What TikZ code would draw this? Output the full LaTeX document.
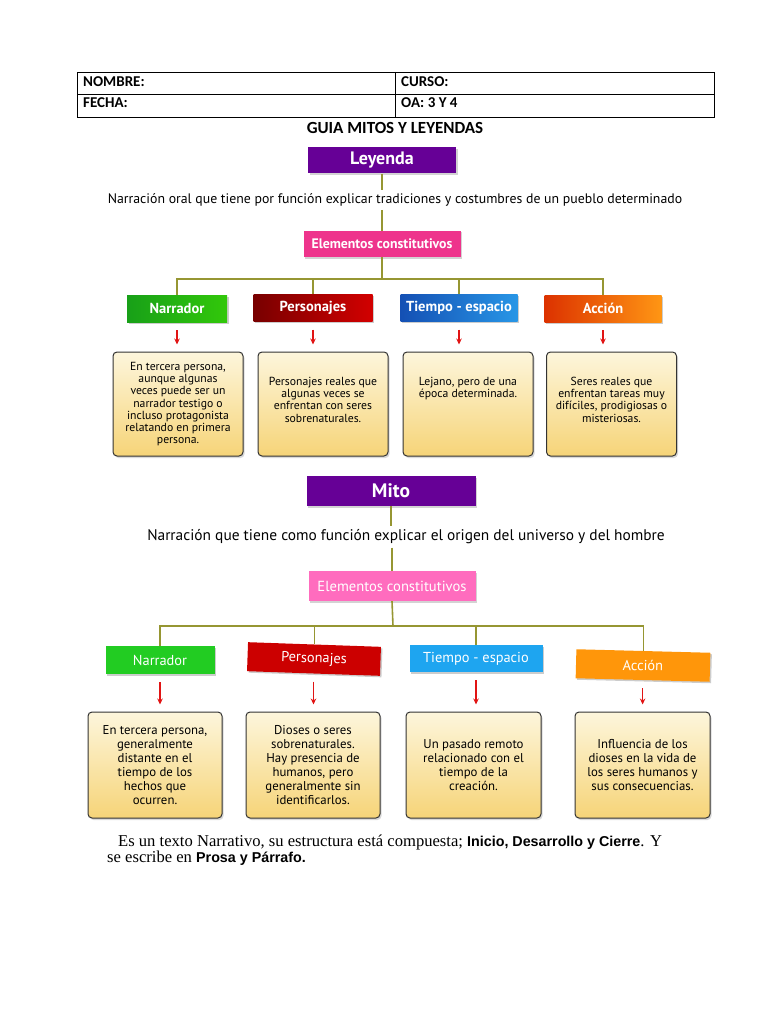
\documentclass[tikz,border=0pt]{standalone}
\usepackage{fontspec}
\setmainfont{PT Sans}
\newfontfamily\hdrfont{Carlito}
\newfontfamily\timesfont{Liberation Serif}
\newfontfamily\arialfont{Liberation Sans}
\usetikzlibrary{arrows.meta,shadows}
\definecolor{ttlpurple}{RGB}{102,0,150}
\definecolor{elpink}{RGB}{238,52,140}
\definecolor{elpinklt}{RGB}{255,108,190}
\definecolor{olive}{RGB}{150,150,50}
\definecolor{arrred}{RGB}{225,20,20}
\definecolor{boxtop}{RGB}{253,246,220}
\definecolor{boxbot}{RGB}{246,212,120}
\definecolor{grnL}{RGB}{24,160,24}
\definecolor{grnR}{RGB}{50,200,10}
\definecolor{redL}{RGB}{120,0,0}
\definecolor{redR}{RGB}{210,0,0}
\definecolor{bluL}{RGB}{20,80,180}
\definecolor{bluR}{RGB}{40,150,230}
\definecolor{accL}{RGB}{220,50,0}
\definecolor{accR}{RGB}{255,150,20}
\definecolor{mgreen}{RGB}{34,204,34}
\definecolor{mred}{RGB}{204,0,0}
\definecolor{mblue}{RGB}{30,165,240}
\definecolor{morange}{RGB}{255,150,10}

\newcommand{\toptext}[2]{\parbox[c][94pt][t]{124pt}{\centering\vspace*{#1}#2}}

\begin{document}
\begin{tikzpicture}[x=1pt, y=-1pt, >=Stealth,
    hdr/.style={anchor=west, font=\hdrfont\bfseries\fontsize{15}{17}\selectfont, inner sep=0pt},
    title/.style={fill=ttlpurple, text=white, font=\bfseries\fontsize{18}{20}\selectfont, minimum height=26pt, drop shadow={shadow xshift=1.5pt, shadow yshift=-1.5pt, opacity=0.35}},
    elem/.style={text=white, font=\bfseries\fontsize{13.8}{16}\selectfont, minimum height=26pt, minimum width=157pt, drop shadow={shadow xshift=1.5pt, shadow yshift=-1.5pt, opacity=0.35}},
    part/.style={text=white, minimum height=27pt, drop shadow={shadow xshift=1.5pt, shadow yshift=-1.5pt, opacity=0.4}},
    descbox/.style={draw=black!80, line width=1pt, rounded corners=4pt, top color=boxtop, bottom color=boxbot, minimum width=130pt, minimum height=104pt, inner sep=3pt, align=center, drop shadow={shadow xshift=1.5pt, shadow yshift=-2pt, opacity=0.3}},
    tree/.style={draw=olive, line width=1.6pt},
    redarr/.style={->, arrred, line width=1.3pt, shorten <=8pt, shorten >=7pt, >={Stealth[length=6pt, width=5.5pt]}}]

\useasboundingbox (0,0) rectangle (768,1024);

\draw[line width=0.9pt] (77,72) rectangle (714,117);
\draw[line width=0.9pt] (77,94) -- (714,94);
\draw[line width=0.9pt] (395,72) -- (395,117);
\node[hdr] (nombre) at (83,81.5) {NOMBRE:};
\node[hdr] (curso) at (401,81.5) {CURSO:};
\node[hdr] (fecha) at (83,103) {FECHA:};
\node[hdr] (oa) at (401,103) {OA: 3 Y 4};
\node[font=\hdrfont\bfseries\fontsize{17}{19}\selectfont] (guia) at (395,127.5) {GUIA MITOS Y LEYENDAS};

\node[title, minimum width=148pt] (ley) at (382,160.5) {Leyenda};
\node[font=\fontsize{13.8}{16}\selectfont] (leydesc) at (395,200) {Narración oral que tiene por función explicar tradiciones y costumbres de un pueblo determinado};
\node[elem, fill=elpink] (leyel) at (382,244) {Elementos constitutivos};
\coordinate (leyj) at (382,279);

\node[part, minimum width=100pt, left color=grnL, right color=grnR, font=\bfseries\fontsize{14.5}{16}\selectfont] (lnar) at (177,308.5) {Narrador};
\node[part, minimum width=119pt, left color=redL, right color=redR, font=\bfseries\fontsize{14.5}{16}\selectfont] (lper) at (313,308) {Personajes};
\node[part, minimum width=117pt, left color=bluL, right color=bluR, font=\bfseries\fontsize{14.5}{16}\selectfont] (ltie) at (459,308) {Tiempo - espacio};
\node[part, minimum width=117pt, left color=accL, right color=accR, font=\bfseries\fontsize{14.5}{16}\selectfont] (lacc) at (603,308.5) {Acción};

\draw[tree] (ley.south) -- (ley.south |- leydesc.north);
\draw[tree] (leyel.north |- leydesc.south) -- (leyel.north);
\draw[tree] (leyel.south) -- (leyj);
\draw[tree] (lnar.north) |- (leyj) -| (lacc.north);
\draw[tree] (lper.north) -- (lper.north |- leyj);
\draw[tree] (ltie.north) -- (ltie.north |- leyj);

\node[descbox, font=\fontsize{11.7}{12.3}\selectfont] (lnarb) at (178,404) {\toptext{5pt}{En tercera persona,\\aunque algunas\\veces puede ser un\\narrador testigo o\\incluso protagonista\\relatando en primera\\persona.}};
\node[descbox, font=\fontsize{11.7}{12.3}\selectfont] (lperb) at (323,404) {\toptext{20pt}{Personajes reales que\\algunas veces se\\enfrentan con seres\\sobrenaturales.}};
\node[descbox, font=\fontsize{11.7}{12.3}\selectfont] (ltieb) at (468,404) {\toptext{20pt}{Lejano, pero de una\\época determinada.}};
\node[descbox, font=\fontsize{11.7}{12.3}\selectfont] (laccb) at (611.5,404) {\toptext{20pt}{Seres reales que\\enfrentan tareas muy\\difíciles, prodigiosas o\\misteriosas.}};

\draw[redarr] (lnar.south) -- (lnar.south |- lnarb.north);
\draw[redarr] (lper.south) -- (lper.south |- lperb.north);
\draw[redarr] (ltie.south) -- (ltie.south |- ltieb.north);
\draw[redarr] (lacc.south) -- (lacc.south |- laccb.north);

\node[title, minimum width=169pt, minimum height=30pt, font=\bfseries\fontsize{19.5}{22}\selectfont] (mito) at (391,491) {Mito};
\node[font=\fontsize{15.4}{18}\selectfont] (mitodesc) at (406,537) {Narración que tiene como función explicar el origen del universo y del hombre};
\node[elem, fill=elpinklt, minimum width=167pt, minimum height=30pt, font=\fontsize{14.6}{16}\selectfont] (mitoel) at (392,586) {Elementos constitutivos};
\coordinate (mitoj) at (393,626);

\node[part, minimum width=109pt, minimum height=28pt, fill=mgreen, font=\fontsize{14.4}{16}\selectfont] (mnar) at (160,660) {Narrador};
\node[part, minimum width=133pt, minimum height=29pt, fill=mred, rotate=-2, font=\fontsize{14.4}{16}\selectfont] (mper) at (314,659) {Personajes};
\node[part, minimum width=133pt, minimum height=27pt, fill=mblue, font=\fontsize{14.4}{16}\selectfont] (mtie) at (476,658.5) {Tiempo - espacio};
\node[part, minimum width=134pt, minimum height=29pt, fill=morange, rotate=-1.5, font=\fontsize{14.4}{16}\selectfont] (macc) at (643,665.5) {Acción};

\draw[tree] (mito.south) -- (mito.south |- mitodesc.north);
\draw[tree] (mitoel.north |- mitodesc.south) -- (mitoel.north);
\draw[tree] (mitoel.south) -- (mitoj);
\draw[tree] (mnar.north) |- (mitoj) -| (macc.north);
\draw[tree] (mper.north) -- (mper.north |- mitoj);
\draw[tree] (mtie.north) -- (mtie.north |- mitoj);

\node[descbox, minimum width=134pt, minimum height=106pt, font=\fontsize{12.8}{14}\selectfont] (mnarb) at (155,765) {En tercera persona,\\generalmente\\distante en el\\tiempo de los\\hechos que\\ocurren.};
\node[descbox, minimum width=134pt, minimum height=106pt, font=\fontsize{12.8}{14}\selectfont] (mperb) at (313,765) {Dioses o seres\\sobrenaturales.\\Hay presencia de\\humanos, pero\\generalmente sin\\identificarlos.};
\node[descbox, minimum width=135pt, minimum height=106pt, font=\fontsize{12.8}{14}\selectfont] (mtieb) at (473.5,765) {Un pasado remoto\\relacionado con el\\tiempo de la\\creación.};
\node[descbox, minimum width=135pt, minimum height=106pt, font=\fontsize{12.8}{14}\selectfont] (maccb) at (642.5,765) {Influencia de los\\dioses en la vida de\\los seres humanos y\\sus consecuencias.};

\draw[redarr] (mnar.south) -- (mnar.south |- mnarb.north);
\draw[redarr] (mper.south) -- (mper.south |- mperb.north);
\draw[redarr] (mtie.south) -- (mtie.south |- mtieb.north);
\draw[redarr] (macc.south) -- (macc.south |- maccb.north);

\node[anchor=north west, align=left, inner sep=0pt, font=\timesfont\fontsize{16.6}{15.5}\selectfont] (nota) at (107,835) {\hspace*{11pt}Es un texto Narrativo, su estructura está compuesta; {\arialfont\bfseries\fontsize{14.3}{15.5}\selectfont Inicio, Desarrollo y Cierre}. Y\\se escribe en {\arialfont\bfseries\fontsize{14.3}{15.5}\selectfont Prosa y Párrafo.}};

\end{tikzpicture}
\end{document}
